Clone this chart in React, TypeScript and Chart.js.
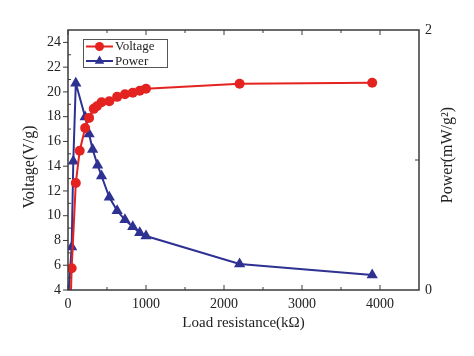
import React, { useEffect, useRef } from 'react';
import { Chart, registerables } from 'chart.js';

Chart.register(...registerables);

// ---- data ----
const voltageR = [20, 47, 100, 150, 220, 270, 330, 370, 430, 530, 630, 730, 830, 920, 1000, 2200, 3900];
const voltage = [0, 5.76, 12.64, 15.25, 17.09, 17.9, 18.63, 18.84, 19.17, 19.25, 19.6, 19.81, 19.93, 20.1, 20.25, 20.66, 20.74];
const powerR = [10, 47, 68, 100, 220, 270, 316, 380, 430, 530, 630, 730, 830, 920, 1000, 2200, 3900];
const power = [0, 0.33, 0.99, 1.59, 1.33, 1.2, 1.08, 0.96, 0.877, 0.713, 0.61, 0.54, 0.487, 0.44, 0.415, 0.2, 0.115];

const xTicks = [0, 1000, 2000, 3000, 4000];
const xMinorTicks = [500, 1500, 2500, 3500];
const leftTicks = [4, 6, 8, 10, 12, 14, 16, 18, 20, 22, 24];
const leftMinorTicks = [5, 7, 9, 11, 13, 15, 17, 19, 21, 23];
const rightTicks = [0, 2];
const rightMinorTicks = [1];

const RED = '#e42320';
const BLUE = '#2e3192';
const TEXT = '#222222';
const SERIF = '"Liberation Serif", "Times New Roman", serif';

const decor = {
  id: 'decor',
  afterDatasetsDraw(chart: any) {
    const { ctx, chartArea: a, scales } = chart;
    ctx.save();
    ctx.strokeStyle = '#3a3a3a';
    ctx.lineWidth = 1.5;
    ctx.strokeRect(a.left, a.top, a.right - a.left, a.bottom - a.top);
    ctx.lineWidth = 1;
    const seg = (x1: number, y1: number, x2: number, y2: number) => {
      ctx.beginPath();
      ctx.moveTo(x1, y1);
      ctx.lineTo(x2, y2);
      ctx.stroke();
    };
    xTicks.forEach((v) => {
      const x = scales.x.getPixelForValue(v);
      seg(x, a.bottom, x, a.bottom - 5);
      seg(x, a.top, x, a.top + 5);
    });
    xMinorTicks.forEach((v) => {
      const x = scales.x.getPixelForValue(v);
      seg(x, a.bottom, x, a.bottom - 3);
      seg(x, a.top, x, a.top + 3);
    });
    leftTicks.forEach((v) => {
      const y = scales.y.getPixelForValue(v);
      seg(a.left - 5, y, a.left, y);
    });
    leftMinorTicks.forEach((v) => {
      const y = scales.y.getPixelForValue(v);
      seg(a.left, y, a.left + 3, y);
    });
    rightMinorTicks.forEach((v) => {
      const y = scales.y1.getPixelForValue(v);
      seg(a.right, y, a.right - 4, y);
    });

    // axis titles
    ctx.fillStyle = TEXT;
    ctx.textAlign = 'center';
    ctx.textBaseline = 'middle';
    ctx.font = `15px ${SERIF}`;
    ctx.fillText('Load resistance(kΩ)', (a.left + a.right) / 2, a.bottom + 33);
    ctx.font = `16px ${SERIF}`;
    ctx.save();
    ctx.translate(30, a.top + 137);
    ctx.rotate(-Math.PI / 2);
    ctx.fillText('Voltage(V/g)', 0, 0);
    ctx.restore();
    ctx.save();
    ctx.translate(a.right + 29, a.top + 125);
    ctx.rotate(-Math.PI / 2);
    ctx.fillText('Power(mW/g²)', 0, 0);
    ctx.restore();

    // legend
    const lx = a.left + 15;
    const ly = a.top + 9;
    ctx.strokeStyle = '#555555';
    ctx.lineWidth = 1;
    ctx.strokeRect(lx + 0.5, ly + 0.5, 84, 28);
    const rows = chart.data.datasets;
    rows.forEach((ds: any, i: number) => {
      const yy = ly + 7.5 + i * 14.5;
      ctx.strokeStyle = ds.borderColor;
      ctx.fillStyle = ds.backgroundColor;
      ctx.lineWidth = 2;
      seg(lx + 3, yy, lx + 30, yy);
      ctx.beginPath();
      if (ds.pointStyle === 'triangle') {
        const r = 5.5;
        ctx.moveTo(lx + 16.5, yy - r);
        ctx.lineTo(lx + 16.5 + r * 0.866, yy + r * 0.5);
        ctx.lineTo(lx + 16.5 - r * 0.866, yy + r * 0.5);
        ctx.closePath();
      } else {
        ctx.arc(lx + 16.5, yy, 4.5, 0, Math.PI * 2);
      }
      ctx.fill();
      ctx.fillStyle = TEXT;
      ctx.textAlign = 'left';
      ctx.font = `13px ${SERIF}`;
      ctx.fillText(ds.label, lx + 32, yy + 0.5);
    });
    ctx.restore();
  },
};

export default function App() {
  const ref = useRef<HTMLCanvasElement>(null);
  useEffect(() => {
    if (!ref.current) return;
    const tickFont = { family: SERIF, size: 14 };
    const plain = (v: any) => String(v);
    const chart = new Chart(ref.current, {
      type: 'scatter',
      data: {
        datasets: [
          {
            label: 'Voltage',
            data: voltageR.map((x, i) => ({ x, y: voltage[i] })),
            showLine: true,
            borderColor: RED,
            backgroundColor: RED,
            borderWidth: 2,
            pointStyle: 'circle',
            pointRadius: voltage.map((_, i) => (i === 0 ? 0 : 5)),
            pointBorderWidth: 0,
            yAxisID: 'y',
          },
          {
            label: 'Power',
            data: powerR.map((x, i) => ({ x, y: power[i] })),
            showLine: true,
            borderColor: BLUE,
            backgroundColor: BLUE,
            borderWidth: 2,
            pointStyle: 'triangle',
            pointRadius: power.map((_, i) => (i === 0 ? 0 : 6.5)),
            pointBorderWidth: 0,
            yAxisID: 'y1',
          },
        ],
      },
      options: {
        responsive: false,
        animation: false,
        devicePixelRatio: 1,
        layout: { padding: { top: 30, left: 0, right: 0, bottom: 0 } },
        plugins: { legend: { display: false }, tooltip: { enabled: false } },
        scales: {
          x: {
            type: 'linear',
            position: 'bottom',
            min: 0,
            max: 4500,
            grid: { display: false, drawTicks: false },
            border: { display: false },
            ticks: { font: tickFont, color: TEXT, padding: 6, maxRotation: 0, callback: plain },
            afterBuildTicks: (s: any) => {
              s.ticks = xTicks.map((v) => ({ value: v }));
            },
            afterFit: (s: any) => {
              s.height = 66;
            },
          },
          y: {
            type: 'linear',
            position: 'left',
            min: 4,
            max: 25,
            grid: { display: false, drawTicks: false },
            border: { display: false },
            ticks: { font: tickFont, color: TEXT, padding: 7, callback: plain },
            afterBuildTicks: (s: any) => {
              s.ticks = leftTicks.map((v) => ({ value: v }));
            },
            afterFit: (s: any) => {
              s.width = 68;
            },
          },
          y1: {
            type: 'linear',
            position: 'right',
            min: 0,
            max: 2,
            grid: { display: false, drawTicks: false },
            border: { display: false },
            ticks: { font: tickFont, color: TEXT, padding: 6, callback: plain },
            afterBuildTicks: (s: any) => {
              s.ticks = rightTicks.map((v) => ({ value: v }));
            },
            afterFit: (s: any) => {
              s.width = 55;
            },
          },
        },
      },
      plugins: [decor],
    } as any);
    return () => chart.destroy();
  }, []);
  return (
    <div style={{ position: 'fixed', left: 0, top: 0, width: 474, height: 356, background: '#fff' }}>
      <canvas ref={ref} width={474} height={356} />
    </div>
  );
}
